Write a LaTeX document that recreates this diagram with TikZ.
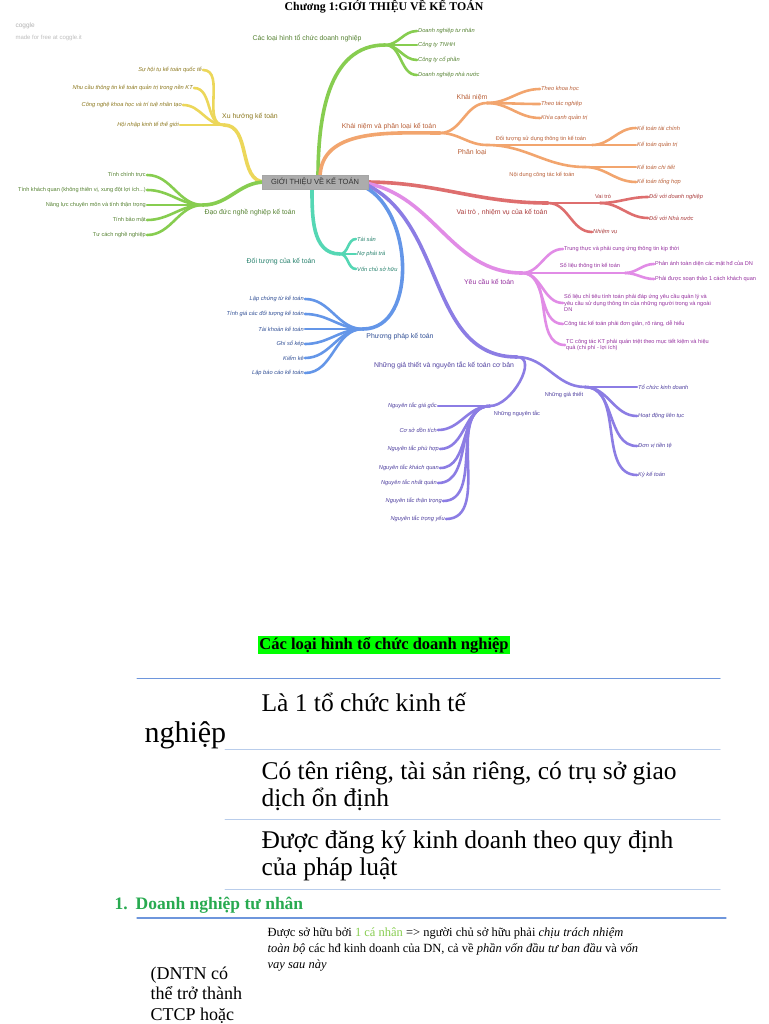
\documentclass[tikz,border=0pt]{standalone}
\usepackage{fontspec}
\setmainfont{Liberation Serif}
\newfontfamily\mm{Liberation Sans}
\begin{document}
\begin{tikzpicture}[x=1pt,y=-1pt,line cap=round,
  br/.style={line width=3.6pt},
  sb/.style={line width=2.6pt},
  lbl/.style={font=\mm\fontsize{5.7}{6.5}\selectfont\itshape,inner sep=1pt},
  mlb/.style={font=\mm\fontsize{6.9}{8}\selectfont,inner sep=1pt},
  plbl/.style={font=\mm\fontsize{5.6}{6.6}\selectfont,inner sep=1pt}]
\definecolor{cG}{RGB}{135,205,80}\definecolor{tG}{RGB}{85,130,50}
\definecolor{cO}{RGB}{242,165,110}\definecolor{tO}{RGB}{185,95,55}
\definecolor{cR}{RGB}{222,110,110}\definecolor{tR}{RGB}{170,60,60}
\definecolor{cP}{RGB}{225,140,230}\definecolor{tP}{RGB}{150,50,160}
\definecolor{cV}{RGB}{140,125,228}\definecolor{tV}{RGB}{80,65,160}
\definecolor{cB}{RGB}{100,150,232}\definecolor{tB}{RGB}{50,80,150}
\definecolor{cT}{RGB}{85,215,180}\definecolor{tT}{RGB}{40,130,110}
\definecolor{cY}{RGB}{236,215,90}\definecolor{tY}{RGB}{140,120,30}
\definecolor{lb}{RGB}{110,150,220}\definecolor{llb}{RGB}{185,205,235}
\useasboundingbox (0,0) rectangle (768,1024);
\fill[white] (0,0) rectangle (768,1024);
% title
\node[font=\bfseries\fontsize{11.8}{13}\selectfont] (title) at (384,7) {Chương 1:GIỚI THIỆU VỀ KẾ TOÁN};
\node[anchor=west,font=\mm\fontsize{6.5}{7}\selectfont,text=gray!60] (cg) at (12,26) {coggle};
\node[anchor=west,font=\mm\fontsize{6}{7}\selectfont,text=gray!50] (cg2) at (12,38) {made for free at coggle.it};
% coordinates
\coordinate (c) at (315,182);
\coordinate (hG) at (385,45);
\coordinate (hO) at (440,133);
\coordinate (hKN) at (487,103);
\coordinate (hPL) at (487,145);
\coordinate (hDT) at (592,145);
\coordinate (hND) at (585,167);
\coordinate (hR) at (548,203);
\coordinate (hVT) at (600,203);
\coordinate (hP) at (522,273);
\coordinate (hSL) at (625,273);
\coordinate (hV) at (517,357);
\coordinate (hGT) at (585,387);
\coordinate (hNT) at (490,406);
\coordinate (hB) at (363,329);
\coordinate (hT) at (340,254);
\coordinate (hY) at (224,125);
\coordinate (hGL) at (203,205);
% main branches
\draw[br,cG] (318,178) to[out=90,in=180] (hG);
\draw[br,cO] (320,178) to[out=90,in=180] (hO);
\draw[br,cR] (365,182) to[out=0,in=180] (hR);
\draw[br,cP] (365,183) to[out=-10,in=180] (hP);
\draw[br,cV] (365,184) to[out=-25,in=180] (hV);
\draw[br,cB] (360,185) to[out=-20,in=0] (hB);
\draw[br,cT] (312,186) to[out=-90,in=180] (hT);
\draw[br,cY] (265,182) to[out=180,in=0] (hY);
\draw[br,cG] (265,182) to[out=180,in=0] (hGL);
% center
\node[fill=gray!65,draw=gray!70,minimum width=106pt,minimum height=14pt,font=\mm\fontsize{7.5}{8}\selectfont,text=black!80] (ctr) at (c) {GIỚI THIỆU VỀ KẾ TOÁN};
% green top
\node[mlb,text=tG] (lG) at (307,38) {Các loại hình tổ chức doanh nghiệp};
\foreach \y/\t [count=\i] in {31/{Doanh nghiệp tư nhân},45/{Công ty TNHH},60/{Công ty cổ phần},75/{Doanh nghiệp nhà nước}}{
  \node[lbl,anchor=west,text=tG] (g\i) at (417,\y) {\t};
  \draw[sb,cG] (hG) to[out=0,in=180] (g\i.west);}
% orange
\node[mlb,text=tO] (lO) at (389,127) {Khái niệm và phân loại kế toán};
\draw[sb,cO] (hO) to[out=0,in=180] (hKN);
\draw[sb,cO] (hO) to[out=0,in=180] (hPL);
\node[mlb,text=tO] (lKN) at (472,97) {Khái niệm};
\node[mlb,text=tO] (lPL) at (472,153) {Phân loại};
\foreach \y/\t [count=\i] in {89/{Theo khoa học},104/{Theo tác nghiệp},118/{Khía cạnh quản trị}}{
  \node[lbl,anchor=west,text=tO] (o\i) at (540,\y) {\t};
  \draw[sb,cO] (hKN) to[out=0,in=180] (o\i.west);}
\draw[sb,cO] (hPL) -- (hDT);
\draw[sb,cO] (hPL) to[out=0,in=180] (hND);
\node[plbl,text=tO] (lDT) at (541,139) {Đối tượng sử dụng thông tin kế toán};
\node[plbl,text=tO] (lND) at (542,175) {Nội dung công tác kế toán};
\foreach \y/\t [count=\i] in {128/{Kế toán tài chính},145/{Kế toán quản trị}}{
  \node[lbl,anchor=west,text=tO] (od\i) at (636,\y) {\t};
  \draw[sb,cO] (hDT) to[out=0,in=180] (od\i.west);}
\foreach \y/\t [count=\i] in {167/{Kế toán chi tiết},182/{Kế toán tổng hợp}}{
  \node[lbl,anchor=west,text=tO] (on\i) at (636,\y) {\t};
  \draw[sb,cO] (hND) to[out=0,in=180] (on\i.west);}
% red
\node[mlb,text=tR] (lR) at (502,212) {Vai trò , nhiệm vụ của kế toán};
\draw[sb,cR] (hR) -- (hVT);
\node[plbl,text=tR] (lVT) at (603,196) {Vai trò};
\foreach \y/\t [count=\i] in {197/{Đối với doanh nghiệp},218/{Đối với Nhà nước}}{
  \node[lbl,anchor=west,text=tR] (r\i) at (648,\y) {\t};
  \draw[sb,cR] (hVT) to[out=0,in=180] (r\i.west);}
\node[lbl,anchor=west,text=tR] (rNV) at (592,232) {Nhiệm vụ};
\draw[sb,cR] (hR) to[out=0,in=180] (rNV.west);
% pink
\node[mlb,text=tP] (lP) at (489,282) {Yêu cầu kế toán};
\node[plbl,anchor=west,text=tP] (p1) at (563,249) {Trung thực và phải cung ứng thông tin kịp thời};
\draw[sb,cP] (hP) to[out=0,in=180] (p1.west);
\draw[sb,cP] (hP) -- (hSL);
\node[plbl,text=tP] (lSL) at (590,266) {Số liệu thông tin kế toán};
\foreach \y/\t [count=\i] in {264/{Phản ánh toàn diện các mặt hđ của DN},279/{Phải được soạn thảo 1 cách khách quan}}{
  \node[plbl,anchor=west,text=tP] (ps\i) at (654,\y) {\t};
  \draw[sb,cP] (hSL) to[out=0,in=180] (ps\i.west);}
\node[plbl,anchor=west,text=tP,align=left] (p3) at (563,303) {Số liệu chỉ tiêu tính toán phải đáp ứng yêu cầu quản lý và\\yêu cầu sử dụng thông tin của những người trong và ngoài\\DN};
\node[plbl,anchor=west,text=tP] (p4) at (563,324) {Công tác kế toán phải đơn giản, rõ ràng, dễ hiểu};
\node[plbl,anchor=west,text=tP,align=left] (p5) at (565,345) {TC công tác KT phải quán triệt theo mục tiết kiệm và hiệu\\quả (chi phí - lợi ích)};
\foreach \n in {p3,p4,p5}{\draw[sb,cP] (hP) to[out=0,in=180] (\n.west);}
% violet
\node[mlb,text=tV] (lV) at (444,365) {Những giả thiết và nguyên tắc kế toán cơ bản};
\draw[sb,cV] (hV) to[out=0,in=180] (hGT);
\draw[sb,cV] (hV) to[out=0,in=0] (hNT);
\node[plbl,text=tV] (lGT) at (564,395) {Những giả thiết};
\node[plbl,text=tV] (lNT) at (517,414) {Những nguyên tắc};
\foreach \y/\t [count=\i] in {387/{Tổ chức kinh doanh},416/{Hoạt động liên tục},446/{Đơn vị tiền tệ},475/{Kỳ kế toán}}{
  \node[lbl,anchor=west,text=tV] (v\i) at (637,\y) {\t};
  \draw[sb,cV] (hGT) to[out=0,in=180] (v\i.west);}
\foreach \y/\x/\t [count=\i] in {406/440/{Nguyên tắc giá gốc},430/440/{Cơ sở dồn tích},449/442/{Nguyên tắc phù hợp},468/442/{Nguyên tắc khách quan},483/440/{Nguyên tắc nhất quán},501/445/{Nguyên tắc thận trọng},519/448/{Nguyên tắc trọng yếu}}{
  \node[lbl,anchor=east,text=tV] (n\i) at (\x-2,\y) {\t};
  \draw[sb,cV] (hNT) to[out=180,in=0] (n\i.east);}
% blue
\node[mlb,text=tB] (lB) at (400,337) {Phương pháp kế toán};
\foreach \y/\t [count=\i] in {299/{Lập chứng từ kế toán},314/{Tính giá các đối tượng kế toán},329/{Tài khoản kế toán},344/{Ghi sổ kép},358/{Kiểm kê},373/{Lập báo cáo kế toán}}{
  \node[lbl,anchor=east,text=tB] (b\i) at (305,\y) {\t};
  \draw[sb,cB] (hB) to[out=180,in=0] (b\i.east);}
% teal
\node[mlb,text=tT] (lT) at (281,262) {Đối tượng của kế toán};
\foreach \y/\t [count=\i] in {239/{Tài sản},254/{Nợ phải trả},269/{Vốn chủ sở hữu}}{
  \node[lbl,anchor=west,text=tT] (t\i) at (356,\y) {\t};
  \draw[sb,cT] (hT) to[out=0,in=180] (t\i.west);}
% yellow
\node[mlb,text=tY] (lY) at (250,117) {Xu hướng kế toán};
\foreach \y/\x/\t [count=\i] in {70/205/{Sự hội tụ kế toán quốc tế},88/196/{Nhu cầu thông tin kế toán quản trị trong nền KT},105/185/{Công nghệ khoa học và trí tuệ nhân tạo},125/182/{Hội nhập kinh tế thế giới}}{
  \node[lbl,anchor=east,text=tY] (y\i) at (\x-2,\y) {\t};
  \draw[sb,cY] (hY) to[out=180,in=0] (y\i.east);}
% green left
\node[mlb,text=tG] (lGL) at (250,213) {Đạo đức nghề nghiệp kế toán};
\foreach \y/\t [count=\i] in {175/{Tính chính trực},190/{Tính khách quan (không thiên vị, xung đột lợi ích...)},205/{Năng lực chuyên môn và tính thận trọng},220/{Tính bảo mật},235/{Tư cách nghề nghiệp}}{
  \node[plbl,anchor=east,text=tG] (gl\i) at (147,\y) {\t};
  \draw[sb,cG] (hGL) to[out=180,in=0] (gl\i.east);}
% ---- lower document part
\node[fill=green,inner sep=1pt,font=\bfseries\fontsize{16.5}{18}\selectfont] (h1) at (384,645) {Các loại hình tổ chức doanh nghiệp};
\draw[lb,line width=1pt] (137,678) -- (720,678);
\foreach \y in {749,819,889}{\draw[llb,line width=1pt] (225,\y) -- (720,\y);}
\node[anchor=west,font=\fontsize{30}{34}\selectfont] (ng) at (141,735) {nghiệp};
\node[anchor=west,font=\fontsize{25.5}{27}\selectfont] (d1) at (258,702) {Là 1 tổ chức kinh tế};
\node[anchor=west,align=left,font=\fontsize{25.5}{27}\selectfont] (d2) at (258,786) {Có tên riêng, tài sản riêng, có trụ sở giao\\dịch ổn định};
\node[anchor=west,align=left,font=\fontsize{25.5}{27}\selectfont] (d3) at (258,856) {Được đăng ký kinh doanh theo quy định\\của pháp luật};
\node[anchor=west,text={rgb,255:red,40;green,170;blue,80},font=\bfseries\fontsize{17.5}{20}\selectfont] (s1) at (111,905) {1.\hspace{8pt}Doanh nghiệp tư nhân};
\draw[lb,line width=1.2pt] (137,918) -- (726,918);
\node[anchor=north west,align=left,font=\fontsize{12.5}{16}\selectfont] (par) at (264,924) {Được sở hữu bởi \textcolor{cG}{1 cá nhân} => người chủ sở hữu phải \textit{chịu trách nhiệm}\\\textit{toàn bộ} các hđ kinh doanh của DN, cả về \textit{phần vốn đầu tư ban đầu} và \textit{vốn}\\\textit{vay sau này}};
\node[anchor=north west,align=left,font=\fontsize{18}{20.5}\selectfont] (dn) at (147,963) {(DNTN có\\thể trở thành\\CTCP hoặc};
\end{tikzpicture}
\end{document}
